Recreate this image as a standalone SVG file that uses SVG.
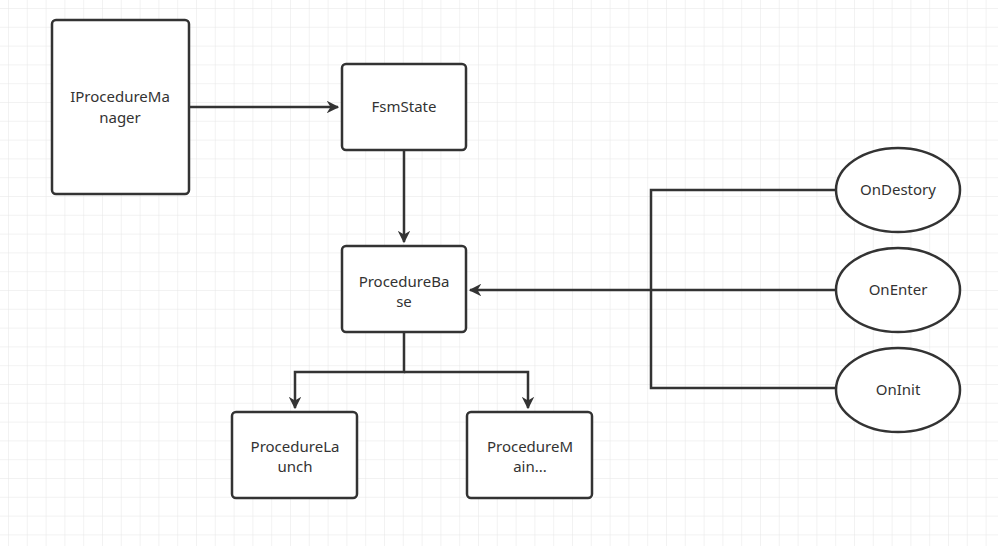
<svg xmlns="http://www.w3.org/2000/svg" width="998" height="546" viewBox="0 0 998 546">
<defs>
<pattern id="g" x="8" y="8" width="18.8" height="18.8" patternUnits="userSpaceOnUse"><path d="M0 0H18.8M0 0V18.8" fill="none" stroke="#e6e6e6" stroke-width="1"/></pattern>
<marker id="a" viewBox="0 0 10 10" refX="9" refY="5" markerWidth="5" markerHeight="5" orient="auto" markerUnits="strokeWidth"><path d="M0 0L10 5L0 10L3 5Z" fill="#333"/></marker>
</defs>
<style>
.n{fill:#fff;stroke:#333;stroke-width:2.5}
.t{font-family:"Microsoft YaHei","Noto Sans","Liberation Sans",sans-serif;font-size:15px;fill:#333;text-anchor:middle}
.c{fill:none;stroke:#333;stroke-width:2.5}
</style>
<rect width="998" height="546" fill="#fff"/>
<rect width="998" height="546" fill="url(#g)"/>
<g id="connectors">
<path class="c" d="M189 107H338" marker-end="url(#a)"/>
<path class="c" d="M404 150V242" marker-end="url(#a)"/>
<path class="c" d="M404 332V372H295V408" marker-end="url(#a)"/>
<path class="c" d="M404 372H528V408" marker-end="url(#a)"/>
<path class="c" d="M836 290H470" marker-end="url(#a)"/>
<path class="c" d="M836 190H651V388H836"/>
</g>
<g id="IProcedureManager"><rect class="n" x="52" y="20" width="137" height="174" rx="4"/><text class="t" x="120" y="102">IProcedureMa</text><text class="t" x="120" y="123">nager</text></g>
<g id="FsmState"><rect class="n" x="342" y="64" width="124" height="86" rx="4"/><text class="t" x="404" y="112">FsmState</text></g>
<g id="ProcedureBase"><rect class="n" x="342" y="246" width="124" height="86" rx="4"/><text class="t" x="404" y="287">ProcedureBa</text><text class="t" x="404" y="307">se</text></g>
<g id="ProcedureLaunch"><rect class="n" x="232" y="412" width="125" height="86" rx="4"/><text class="t" x="295" y="452">ProcedureLa</text><text class="t" x="295" y="472">unch</text></g>
<g id="ProcedureMain"><rect class="n" x="467" y="412" width="125" height="86" rx="4"/><text class="t" x="530" y="452">ProcedureM</text><text class="t" x="530" y="472">ain...</text></g>
<g id="OnDestory"><ellipse class="n" cx="898" cy="190" rx="62" ry="42"/><text class="t" x="898" y="195">OnDestory</text></g>
<g id="OnEnter"><ellipse class="n" cx="898" cy="290" rx="62" ry="42"/><text class="t" x="898" y="295">OnEnter</text></g>
<g id="OnInit"><ellipse class="n" cx="898" cy="390" rx="62" ry="42"/><text class="t" x="898" y="395">OnInit</text></g>
</svg>
